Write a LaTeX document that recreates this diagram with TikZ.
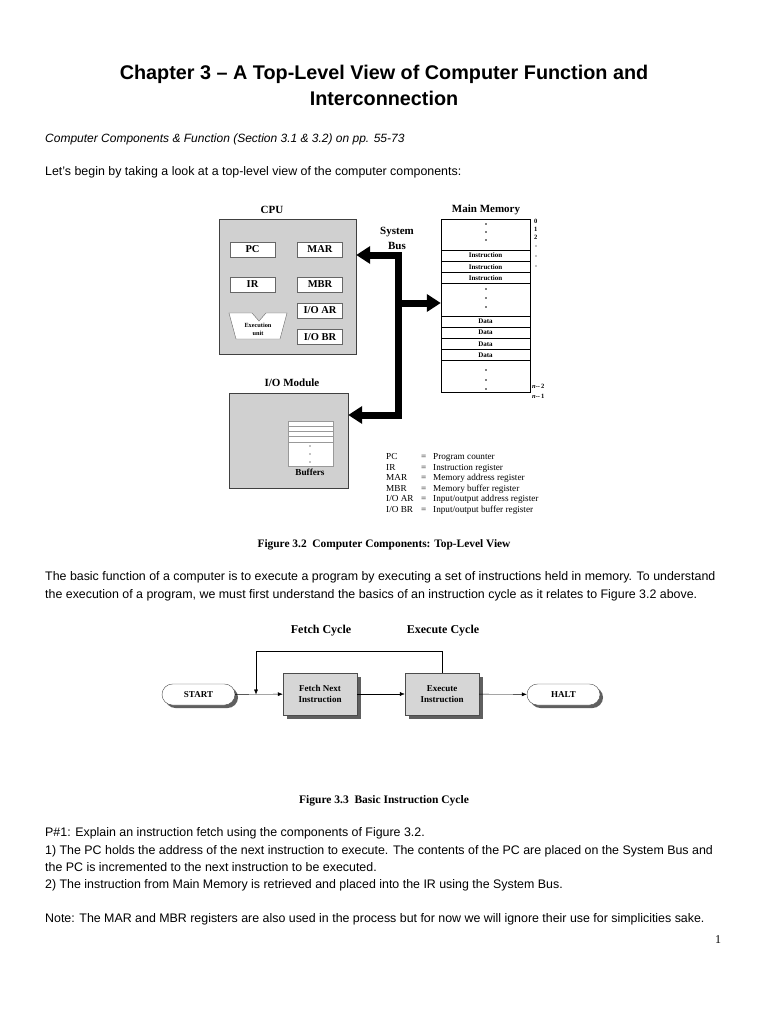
\documentclass[tikz,border=0pt]{standalone}
\usepackage{fontspec}
\setmainfont{Liberation Sans}
\newfontfamily\figfont{Liberation Serif}
\usetikzlibrary{arrows.meta,positioning,shapes.misc,shadows}
\definecolor{boxgray}{RGB}{208,208,208}
\definecolor{cyclegray}{RGB}{214,214,214}
\definecolor{shadowgray}{RGB}{95,95,95}

\tikzset{
  textline/.style={anchor=mid west, inner sep=0pt, font=\fontsize{12.4}{14}\selectfont},
  unitbox/.style={draw=black!75, fill=boxgray, inner sep=0pt},
  reg/.style={draw=black!60, fill=white, minimum width=45pt, minimum height=15pt, inner sep=0pt,
    font=\figfont\bfseries\fontsize{10.5}{11}\selectfont},
  memrow/.style={draw, minimum width=89pt, minimum height=11pt, inner sep=0pt,
    font=\figfont\bfseries\fontsize{7}{7}\selectfont},
  memtag/.style={anchor=mid west, inner sep=0pt, font=\figfont\bfseries\fontsize{6.5}{7}\selectfont},
  figlabel/.style={inner sep=0pt, align=center, font=\figfont\bfseries\fontsize{11}{15}\selectfont},
  legend/.style={anchor=mid west, inner sep=0pt, font=\figfont\fontsize{9.2}{10}\selectfont},
  busarrow/.style={line width=7pt, -{Triangle[length=14pt,width=17pt]}},
  cyclebox/.style={draw=black!70, fill=cyclegray, minimum width=74pt, minimum height=42pt,
    align=center, inner sep=0pt, font=\figfont\bfseries\fontsize{9}{11}\selectfont,
    drop shadow={shadow xshift=4pt, shadow yshift=-4pt, fill=shadowgray, opacity=1}},
  endbox/.style={rounded rectangle, draw=black!70, fill=white, minimum width=73pt,
    minimum height=21pt, inner sep=0pt, font=\figfont\bfseries\fontsize{9}{10}\selectfont,
    drop shadow={shadow xshift=3pt, shadow yshift=-3pt, fill=shadowgray, opacity=1}},
  flow/.style={-{Latex[length=5pt,width=4pt]}}
}

\begin{document}
\begin{tikzpicture}[x=1pt, y=-1pt]
  \fill[white] (0,0) rectangle (768,1024);
  \useasboundingbox (0,0) rectangle (768,1024);

  % page text
  \node[inner sep=0pt, font=\bfseries\fontsize{19.8}{22}\selectfont] (title1) at (384,74)
    {Chapter 3 -- A Top-Level View of Computer Function and};
  \node[inner sep=0pt, font=\bfseries\fontsize{19.8}{22}\selectfont] (title2) at (384,98)
    {Interconnection};
  \node[textline, font=\itshape\fontsize{12}{14}\selectfont] (sect) at (45,140)
    {Computer Components \& Function (Section 3.1 \& 3.2) on pp. 55-73};
  \node[textline] (intro) at (45,173)
    {Let's begin by taking a look at a top-level view of the computer components:};

  % CPU
  \node[figlabel] (cpulabel) at (272,210) {CPU};
  \node[unitbox, minimum width=137pt, minimum height=135pt] (cpu) at (287.5,286.5) {};
  \node[reg] (pc) at (252.5,249.5) {PC};
  \node[reg] (mar) at (320,249.5) {MAR};
  \node[reg] (ir) at (252.5,284.5) {IR};
  \node[reg] (mbr) at (320,284.5) {MBR};
  \node[reg] (ioar) at (320,310.5) {I/O AR};
  \node[reg] (iobr) at (320,337) {I/O BR};
  \draw[draw=black!60, fill=white] (229,313) -- (252,313) -- (259,321) -- (266,313)
    -- (287,313) -- (280,339) -- (236,339) -- cycle;
  \node[inner sep=0pt, align=center, font=\figfont\bfseries\fontsize{6.3}{7.5}\selectfont] (exec)
    at (258,329.5) {Execution\\unit};

  % main memory
  \node[figlabel] (memlabel) at (486,210) {Main Memory};
  \node[draw, minimum width=89pt, minimum height=173pt, inner sep=0pt] (mem) at (485.5,305.5) {};
  \foreach \i in {0,1,2}
    \node[memrow] (ins\i) at (485.5,255.5+11.2*\i) {Instruction};
  \foreach \i in {0,1,2,3}
    \node[memrow] (data\i) at (485.5,321.5+11.2*\i) {Data};
  \foreach \y in {224,232,240,289,298,307,370,380,389}
    \fill (486,\y) circle (0.8);
  \node[memtag] (a0) at (534,221) {0};
  \node[memtag] (a1) at (534,229) {1};
  \node[memtag] (a2) at (534,237) {2};
  \foreach \y in {246,256,266}
    \fill (536,\y) circle (0.7);
  \node[memtag] (an2) at (532,386) {\itshape n\upshape--\,2};
  \node[memtag] (an1) at (532,396) {\itshape n\upshape--\,1};

  % system bus
  \node[figlabel] (buslabel) at (397,238.5) {System\\Bus};
  \coordinate (bustop) at (398,255);
  \coordinate (busmid) at (398,303);
  \coordinate (busbot) at (398,415);

  % I/O module
  \node[figlabel] (iolabel) at (292,383) {I/O Module};
  \node[unitbox, minimum width=119pt, minimum height=95pt] (io) at (288.5,440.5) {};
  \node[draw=black!40, fill=white, minimum width=45pt, minimum height=45pt, inner sep=0pt]
    (buf) at (310.5,443.5) {};
  \foreach \y in {426,431,436,442}
    \draw[black!40] (buf.west |- 0,\y) -- (buf.east |- 0,\y);
  \foreach \y in {446,454,462}
    \fill (310,\y) circle (0.7);
  \node[inner sep=0pt, font=\figfont\bfseries\fontsize{9.2}{10}\selectfont] (buflabel) at (310,472)
    {Buffers};

  \draw[line width=7pt, line cap=rect] (bustop) -- (busbot);
  \draw[busarrow] (bustop) -- (bustop -| cpu.east);
  \draw[busarrow] (busmid) -- (busmid -| mem.west);
  \draw[busarrow] (busbot) -- (busbot -| io.east);

  % legend
  \foreach \y/\ab/\txt in {457/PC/Program counter,
                          468/IR/Instruction register,
                          478/MAR/Memory address register,
                          489/MBR/Memory buffer register,
                          499/I\slash O AR/Input\slash output address register,
                          510/I\slash O BR/Input\slash output buffer register} {
    \node[legend] at (386,\y) {\ab};
    \node[legend] at (421,\y) {=};
    \node[legend] at (433,\y) {\txt};
  }

  \node[figlabel, font=\figfont\bfseries\fontsize{11.4}{12}\selectfont] (cap32) at (384,545)
    {Figure 3.2\enspace Computer Components: Top-Level View};

  \node[textline] (basic1) at (45,578)
    {The basic function of a computer is to execute a program by executing a set of instructions held in memory. To understand};
  \node[textline] (basic2) at (45,596)
    {the execution of a program, we must first understand the basics of an instruction cycle as it relates to Figure 3.2 above.};

  % instruction cycle
  \node[figlabel, font=\figfont\bfseries\fontsize{12}{13}\selectfont] (fetchcyc) at (321,631) {Fetch Cycle};
  \node[figlabel, font=\figfont\bfseries\fontsize{12}{13}\selectfont] (execcyc) at (443,631) {Execute Cycle};
  \node[endbox] (start) at (198.5,694.5) {START};
  \node[cyclebox] (fetch) at (320,694) {Fetch Next\\Instruction};
  \node[cyclebox] (execute) at (442,694) {Execute\\Instruction};
  \node[endbox] (halt) at (563.5,694.5) {HALT};
  \coordinate (join) at (256,694.5);
  \draw[flow] (start) -- (fetch);
  \draw[flow] (fetch) -- (execute);
  \draw[flow] (execute) -- (halt);
  \draw[flow] (execute.north) -- ++(0,-22) -| (join);

  \node[figlabel, font=\figfont\bfseries\fontsize{11.5}{12}\selectfont] (cap33) at (384,801)
    {Figure 3.3\enspace Basic Instruction Cycle};

  \node[textline] (p1) at (45,834)
    {P\#1: Explain an instruction fetch using the components of Figure 3.2.};
  \node[textline] (p2) at (45,852)
    {1) The PC holds the address of the next instruction to execute. The contents of the PC are placed on the System Bus and};
  \node[textline] (p3) at (45,869)
    {the PC is incremented to the next instruction to be executed.};
  \node[textline] (p4) at (45,886)
    {2) The instruction from Main Memory is retrieved and placed into the IR using the System Bus.};
  \node[textline] (note) at (45,920)
    {Note: The MAR and MBR registers are also used in the process but for now we will ignore their use for simplicities sake.};
  \node[inner sep=0pt, font=\figfont\fontsize{12}{14}\selectfont] (pageno) at (718,940) {1};
\end{tikzpicture}
\end{document}
